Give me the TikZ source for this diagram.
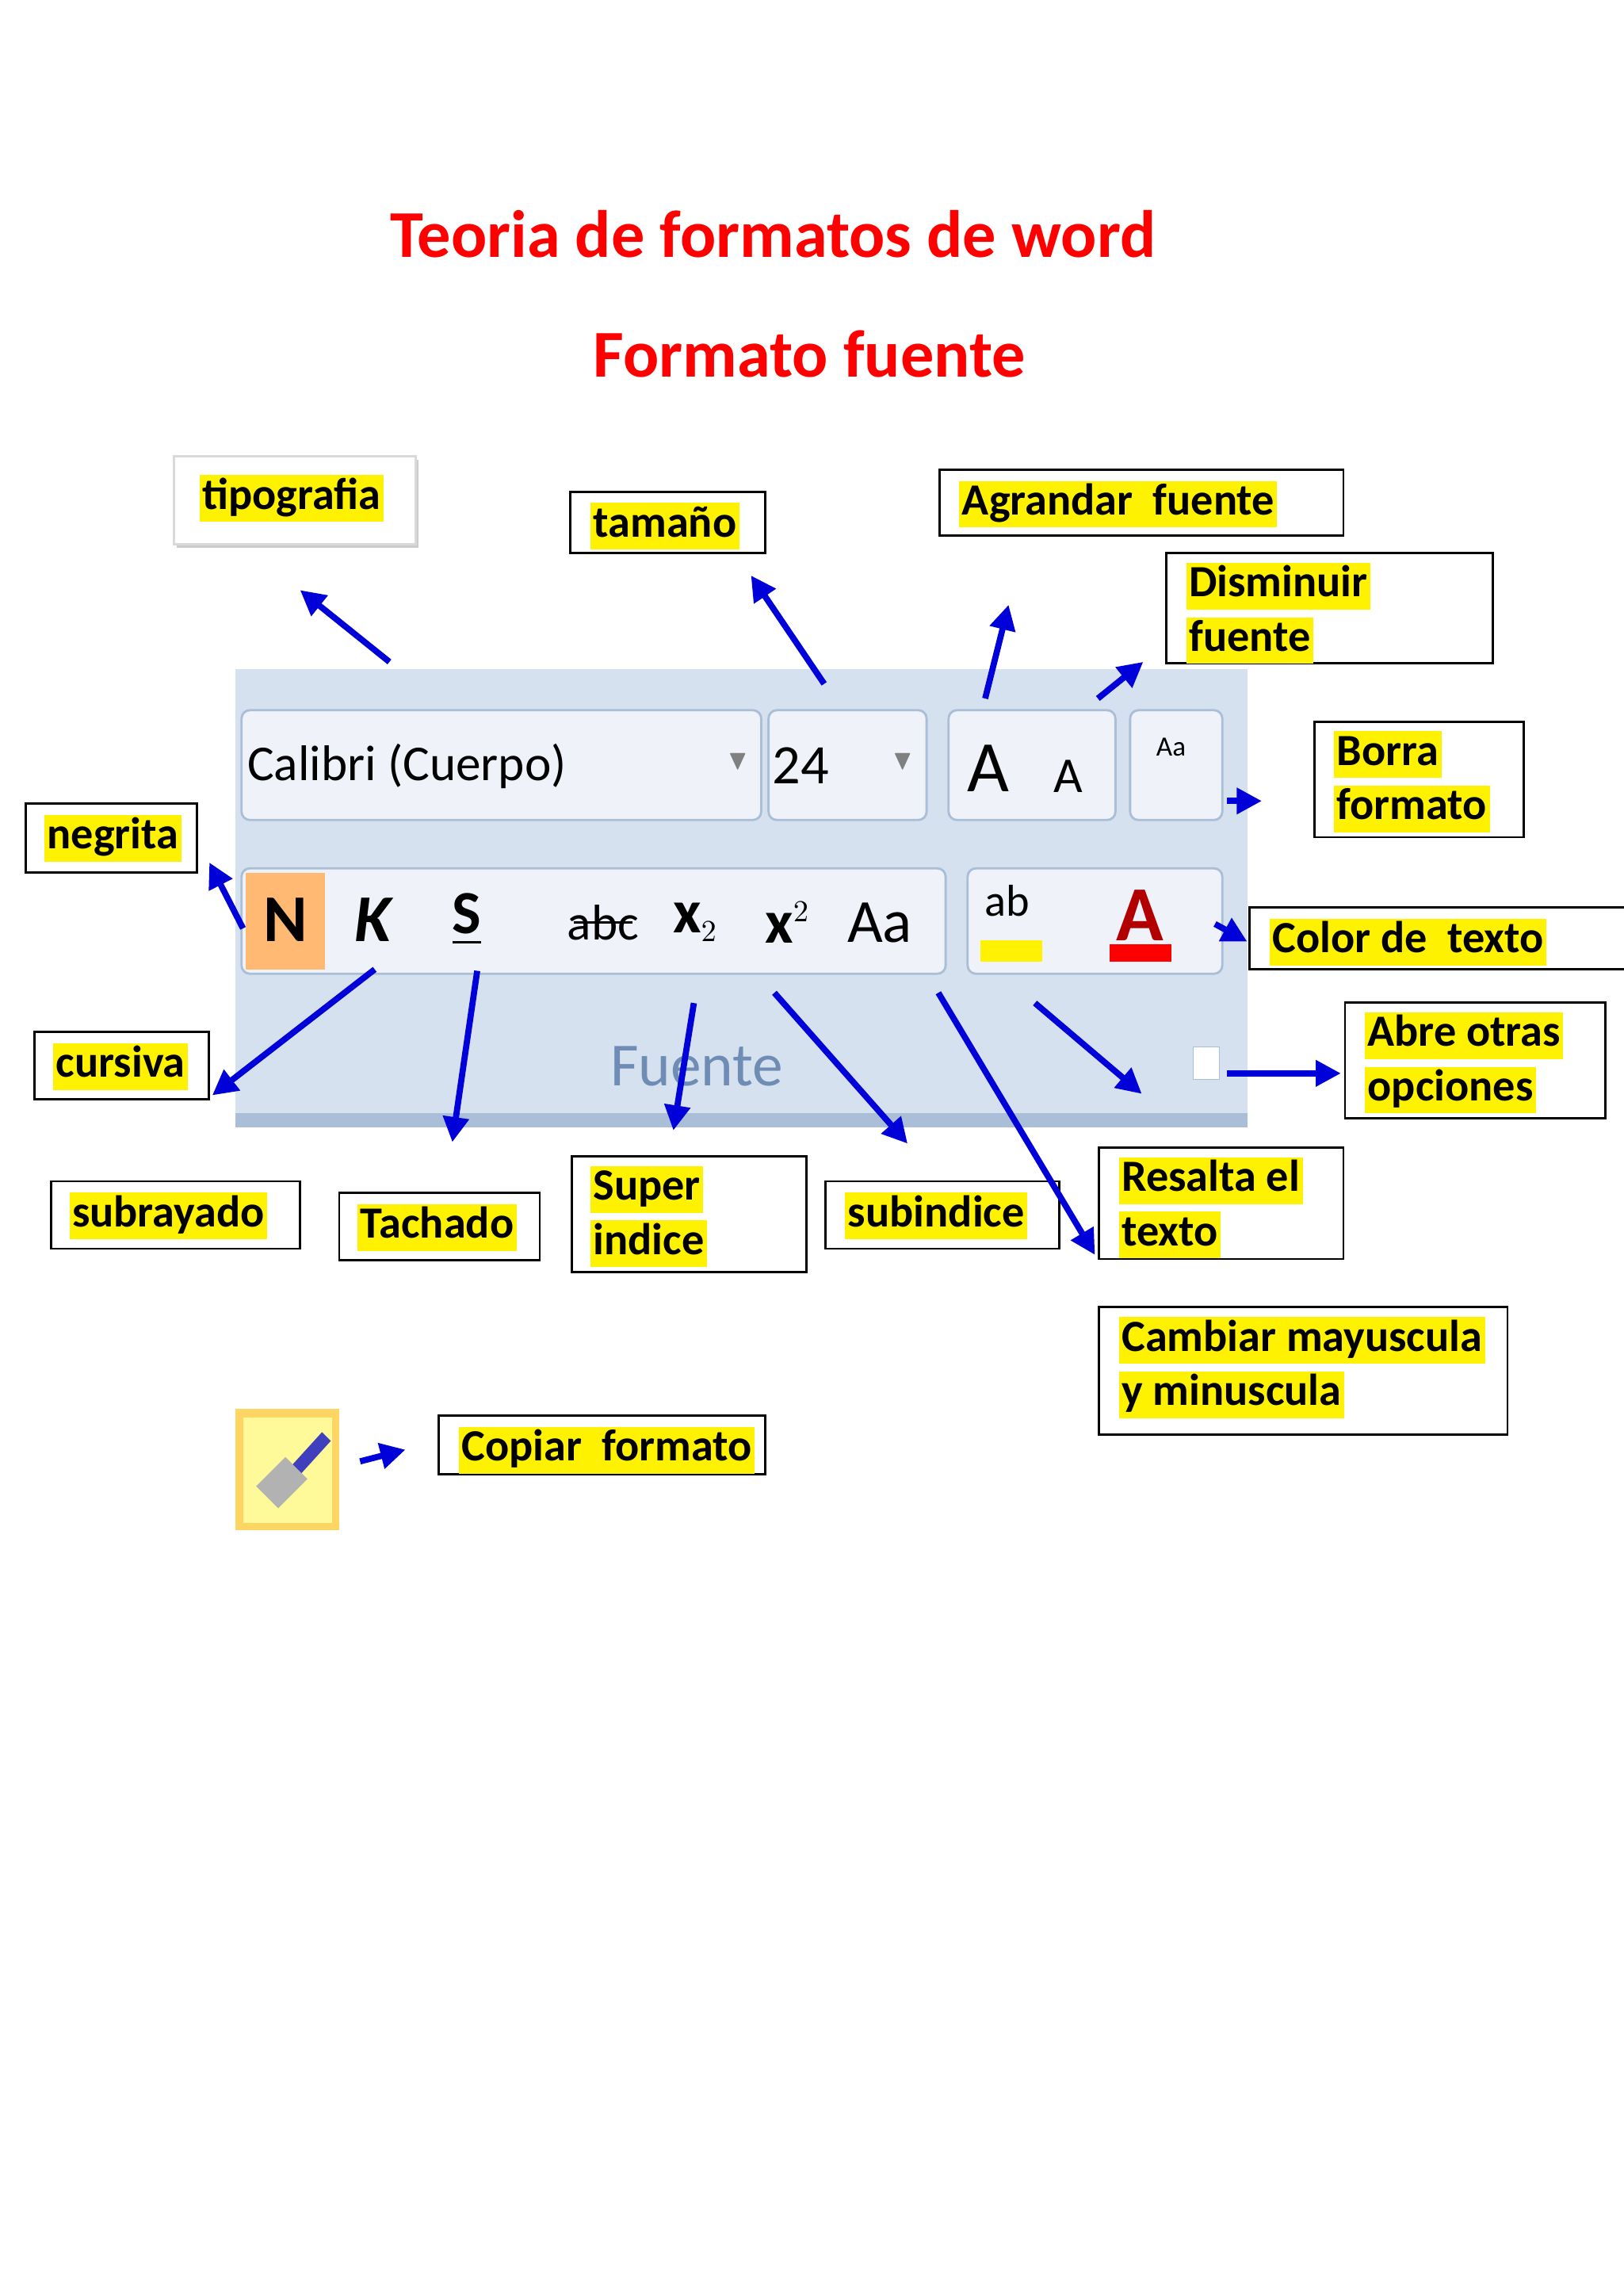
\documentclass[tikz,border=0pt]{standalone}
\usepackage{amssymb}
\usepackage{fontspec}
\setmainfont{Carlito}
\usetikzlibrary{positioning,arrows.meta}
\definecolor{barblue}{RGB}{214,225,240}
\definecolor{barline}{RGB}{170,190,215}
\definecolor{fuentec}{RGB}{110,140,180}
\newcommand{\hl}[1]{\colorbox{yellow}{\rule[-0.22em]{0pt}{0.92em}#1}}
\tikzset{
  lbl/.style={draw=black,thick,rectangle,anchor=north west,inner sep=0pt},
  lbltext/.style={anchor=north west,inner sep=0pt,align=left,font=\fontsize{16}{19.5}\selectfont\bfseries},
  pointer/.style={-{Triangle[length=9pt,width=9pt]},draw=blue!85!black,line width=2.2pt},
  btn/.style={draw=barline,fill=white!60!barblue,rounded corners=3pt,thick},
  title/.style={font=\fontsize{24}{30}\selectfont\bfseries,text=red}
}
\setlength{\fboxsep}{1pt}
\begin{document}
\begin{tikzpicture}[x=0.018467cm,y=-0.018467cm]
    \useasboundingbox (0,0) rectangle (1109,1568);
    % titles
    \node[title] (t1) at (528,160) {Teoria de formatos de word};
    \node[title] (t2) at (553,242) {Formato fuente};
    % toolbar
    \fill[barblue] (161,457) rectangle (852,770);
    \fill[barline] (161,760) rectangle (852,770);
    \draw[btn] (165,485) rectangle (520,560);
    \draw[btn] (525,485) rectangle (633,560);
    \draw[btn] (648,485) rectangle (762,560);
    \draw[btn] (772,485) rectangle (835,560);
    \draw[btn] (165,593) rectangle (646,665);
    \draw[btn] (661,593) rectangle (835,665);
    \fill[orange!55] (168,596) rectangle (222,662);
    \node[font=\fontsize{18}{18}\selectfont] (fnt) at (278,523) {Calibri (Cuerpo)};
    \node[font=\fontsize{20}{20}\selectfont] (siz) at (547,523) {24};
    \node[font=\fontsize{10}{10}\selectfont,text=gray] (dd1) at (504,520) {$\blacktriangledown$};
    \node[font=\fontsize{10}{10}\selectfont,text=gray] (dd2) at (617,520) {$\blacktriangledown$};
    \node[font=\fontsize{26}{26}\selectfont\rmfamily] (grow) at (675,525) {A};
    \node[font=\fontsize{18}{18}\selectfont\rmfamily] (shrink) at (730,530) {A};
    \node[font=\fontsize{10}{10}\selectfont] (aa) at (800,510) {Aa};
    \node[font=\fontsize{24}{24}\selectfont\bfseries] (bN) at (195,628) {N};
    \node[font=\fontsize{24}{24}\selectfont\bfseries\itshape] (bK) at (255,628) {K};
    \node[font=\fontsize{22}{22}\selectfont\bfseries] (bS) at (319,628) {\underline{S}};
    \node[font=\fontsize{18}{18}\selectfont] (bT) at (412,630) {abc};
    \draw[thick] (392,630) -- (432,630);
    \node[font=\fontsize{22}{22}\selectfont\bfseries] (bsub) at (475,630) {x$_{\scriptscriptstyle 2}$};
    \node[font=\fontsize{22}{22}\selectfont\bfseries] (bsup) at (538,630) {x$^{\scriptscriptstyle 2}$};
    \node[font=\fontsize{22}{22}\selectfont] (bAa) at (601,630) {Aa};
    \fill[yellow] (670,642) rectangle (712,657);
    \node[font=\fontsize{16}{16}\selectfont] (bab) at (688,615) {ab};
    \node[font=\fontsize{28}{28}\selectfont\bfseries,text=red!70!black] (bA) at (779,625) {A};
    \fill[red] (758,645) rectangle (800,657);
    \node[font=\fontsize{22}{22}\selectfont,text=fuentec] (fuente) at (476,728) {Fuente};
    \draw[barline,fill=white] (815,715) rectangle (833,737);
    % copy format icon
    \fill[yellow!50!orange!60] (161,962) rectangle (232,1045);
    \fill[yellow!40] (166,968) rectangle (227,1040);
    \fill[gray!60] (175,1015) -- (195,995) -- (210,1010) -- (190,1030) -- cycle;
    \fill[blue!50!gray] (200,1000) -- (220,978) -- (226,984) -- (206,1006) -- cycle;
    % label boxes
    \fill[gray!40] (121,314) rectangle (286,374);
    \node[lbl,draw=gray!30,fill=white,minimum width=165*0.018467cm,minimum height=60*0.018467cm] (btipo) at (118,311) {};
    \node[lbltext] (ttipo) at (136,324) {\hl{tipografia}};
    \node[lbl,minimum width=133*0.018467cm,minimum height=42*0.018467cm] (btam) at (389,335) {};
    \node[lbltext] (ttam) at (403,343) {\hl{tamaño}};
    \node[lbl,minimum width=276*0.018467cm,minimum height=45*0.018467cm] (bagr) at (641,320) {};
    \node[lbltext] (tagr) at (655,328) {\hl{Agrandar\ \ fuente}};
    \node[lbl,minimum width=223*0.018467cm,minimum height=75*0.018467cm] (bdis) at (796,377) {};
    \node[lbltext] (tdis) at (810,384) {\hl{Disminuir}\\\hl{fuente}};
    \node[lbl,minimum width=143*0.018467cm,minimum height=79*0.018467cm] (bbor) at (897,492) {};
    \node[lbltext] (tbor) at (911,499) {\hl{Borra}\\\hl{formato}};
    \node[lbl,minimum width=117*0.018467cm,minimum height=47*0.018467cm] (bneg) at (17,548) {};
    \node[lbltext] (tneg) at (30,556) {\hl{negrita}};
    \node[lbl,minimum width=260*0.018467cm,minimum height=42*0.018467cm] (bcol) at (853,619) {};
    \node[lbltext] (tcol) at (867,627) {\hl{Color de\ \ texto}};
    \node[lbl,minimum width=119*0.018467cm,minimum height=46*0.018467cm] (bcur) at (23,704) {};
    \node[lbltext] (tcur) at (36,712) {\hl{cursiva}};
    \node[lbl,minimum width=178*0.018467cm,minimum height=79*0.018467cm] (babr) at (918,684) {};
    \node[lbltext] (tabr) at (932,691) {\hl{Abre otras}\\\hl{opciones}};
    \node[lbl,minimum width=170*0.018467cm,minimum height=46*0.018467cm] (bsubr) at (34,806) {};
    \node[lbltext] (tsubr) at (47,814) {\hl{subrayado}};
    \node[lbl,minimum width=137*0.018467cm,minimum height=46*0.018467cm] (btach) at (231,814) {};
    \node[lbltext] (ttach) at (244,822) {\hl{Tachado}};
    \node[lbl,minimum width=160*0.018467cm,minimum height=79*0.018467cm] (bsupi) at (390,789) {};
    \node[lbltext] (tsupi) at (403,796) {\hl{Super}\\\hl{indice}};
    \node[lbl,minimum width=160*0.018467cm,minimum height=46*0.018467cm] (bsubi) at (563,806) {};
    \node[lbltext] (tsubi) at (577,814) {\hl{subindice}};
    \node[lbl,minimum width=167*0.018467cm,minimum height=76*0.018467cm] (bres) at (750,783) {};
    \node[lbltext] (tres) at (764,790) {\hl{Resalta el}\\\hl{texto}};
    \node[lbl,minimum width=279*0.018467cm,minimum height=87*0.018467cm] (bcam) at (750,892) {};
    \node[lbltext] (tcam) at (764,899) {\hl{Cambiar mayuscula}\\\hl{y minuscula}};
    \node[lbl,minimum width=223*0.018467cm,minimum height=40*0.018467cm] (bcop) at (299,966) {};
    \node[lbltext] (tcop) at (313,974) {\hl{Copiar\ \ formato}};
    % arrow end points
    \coordinate (a1) at (266,452); \coordinate (b1) at (205,403);
    \coordinate (a2) at (563,467); \coordinate (b2) at (513,393);
    \coordinate (a3) at (673,477); \coordinate (b3) at (689,413);
    \coordinate (a4) at (750,477); \coordinate (b4) at (781,452);
    \coordinate (a5) at (838,547); \coordinate (b5) at (862,547);
    \coordinate (a6) at (166,634); \coordinate (b6) at (143,589);
    \coordinate (a7) at (830,631); \coordinate (b7) at (852,643);
    \coordinate (a8) at (256,662); \coordinate (b8) at (145,748);
    \coordinate (a9) at (838,733); \coordinate (b9) at (916,733);
    \coordinate (a10) at (326,663); \coordinate (b10) at (309,780);
    \coordinate (a11) at (474,685); \coordinate (b11) at (460,772);
    \coordinate (a12) at (529,678); \coordinate (b12) at (620,781);
    \coordinate (a13) at (641,678); \coordinate (b13) at (748,857);
    \coordinate (a14) at (707,685); \coordinate (b14) at (780,747);
    \coordinate (a15) at (246,998); \coordinate (b15) at (277,990);
    \foreach \i in {1,...,15}
      \draw[pointer] (a\i) -- (b\i);
\end{tikzpicture}
\end{document}
